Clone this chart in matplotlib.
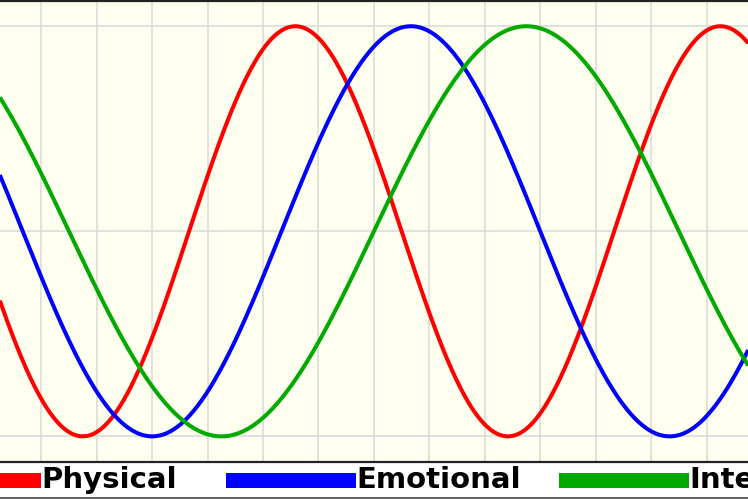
import numpy as np
import matplotlib
matplotlib.use("Agg")
from matplotlib import pyplot as plt
from matplotlib.patches import Rectangle

# biorhythm cycles (days)
names = ["Physical", "Emotional", "Intellectual"]
periods = [23, 28, 33]
colors = ["#ff0000", "#0000ff", "#00aa00"]

# visible window, in days since birth
day_start = 12.77
day_end = 53.24
grid_days = list(range(15, 54, 3))
grid_levels = [-1, 0, 1]

W, H = 748, 499
fig = plt.figure(figsize=(W / 100, H / 100), dpi=100)
fig.patch.set_facecolor("white")

ax = fig.add_axes([0, 37 / H, 1, 461 / H])
ax.set_facecolor("#fffff0")

t = np.linspace(day_start - 1, day_end + 1, 1500)
for name, p, c in zip(names, periods, colors):
    ax.plot(t, np.sin(2 * np.pi * t / p), color=c, lw=2.9, solid_capstyle="butt")

ax.set_xlim(day_start, day_end)
ax.set_ylim(-1.125, 1.123)
ax.set_xticks(grid_days)
ax.set_yticks(grid_levels)
ax.tick_params(length=0, labelbottom=False, labelleft=False)
ax.grid(True, color="#d8d8d8", lw=1.1)
ax.set_axisbelow(True)
for s in ["left", "right"]:
    ax.spines[s].set_visible(False)
for s in ["top", "bottom"]:
    ax.spines[s].set_color("#222222")
    ax.spines[s].set_linewidth(1.6)

# legend strip below the plot
lg = fig.add_axes([0, 0, 1, 37 / H])
lg.set_xlim(0, W)
lg.set_ylim(37, 0)
lg.axis("off")
lg.plot([0, W], [35.5, 35.5], color="#444444", lw=1.2, clip_on=False)

sw_x = [-89, 226, 559]
sw_w = 130
for name, c, x in zip(names, colors, sw_x):
    lg.add_patch(Rectangle((x, 10.5), sw_w, 15.5, facecolor=c, edgecolor="none", clip_on=False))
    lg.text(x + sw_w, 18.5, name, fontsize=21, fontweight="bold", color="black",
            ha="left", va="center", clip_on=False, family="DejaVu Sans")

fig.savefig("out.png", dpi=100, facecolor=fig.get_facecolor())
